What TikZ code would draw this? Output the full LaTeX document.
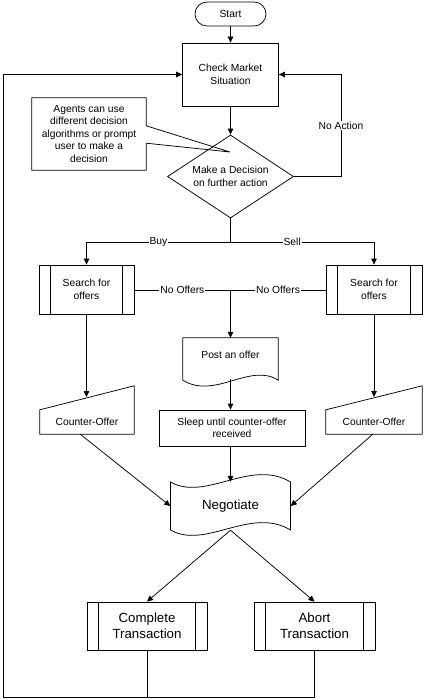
\documentclass[tikz,border=0pt]{standalone}
\usepackage{fontspec}
\setmainfont{Liberation Sans}
\usetikzlibrary{arrows.meta,shapes.geometric,calc}
\begin{document}
\begin{tikzpicture}[x=1pt,y=-1pt,
  every node/.style={font=\fontsize{10.3}{12.5}\selectfont, inner sep=0pt, align=center},
  ln/.style={line width=0.75pt},
  arr/.style={ln, -{Triangle[length=6pt,width=5.5pt]}},
  lbl/.style={fill=white, inner xsep=1pt, inner ysep=1pt},
  big/.style={font=\fontsize{13.3}{16}\selectfont},
  predef/.style={draw, ln, path picture={
      \draw[line width=0.75pt]
        ([xshift=11pt]path picture bounding box.north west) -- ([xshift=11pt]path picture bounding box.south west)
        ([xshift=-12pt]path picture bounding box.north east) -- ([xshift=-12pt]path picture bounding box.south east);}}
]
\useasboundingbox (0,0) rectangle (424,700);
\fill[white] (0,0) rectangle (424,700);

% nodes
\node[draw,ln,rounded corners=12pt,minimum width=71pt,minimum height=24pt] (start) at (230.5,14) {Start};
\node[draw,ln,minimum width=96pt,minimum height=63pt] (check) at (230.5,74.5) {Check Market\\Situation};
\node[draw,ln,diamond,aspect=1.52,minimum width=126pt,minimum height=83pt] (dec) at (230.5,176.5) {Make a Decision\\on further action};
\node[minimum width=114pt,minimum height=72pt] (note) at (89,134) {Agents can use\\different decision\\algorithms or prompt\\user to make a\\decision};
\coordinate (tip) at (230,152);
\draw[ln] ($(note.north east)+(0,28)$) -- (note.north east) -- (note.north west) -- (note.south west) -- (note.south east) -- ($(note.south east)+(0,-27)$) -- (tip) -- cycle;

\node[predef,minimum width=95pt,minimum height=49pt] (sL) at (86.5,289.5) {Search for\\offers};
\node[predef,minimum width=96pt,minimum height=49pt] (sR) at (374,289.5) {Search for\\offers};

\node[minimum width=95pt,minimum height=34pt] (post) at (230.5,355) {Post an offer};
\draw[ln] ($(post.south west)+(0,8)$) -- (post.north west) -- (post.north east) -- ($(post.south east)+(0,8)$)
  .. controls (250,362) and (215,400) .. ($(post.south west)+(0,8)$);
\coordinate (postb) at (230.5,379);

\node[draw,ln,minimum width=146pt,minimum height=36pt] (sleep) at (232,428) {Sleep until counter-offer\\received};

\node[minimum width=94pt,minimum height=24pt] (coL) at (87,422) {Counter-Offer};
\draw[ln] (coL.south west) -- (coL.north west) -- ($(coL.north east)+(0,-24)$) -- (coL.south east) -- cycle;
\node[minimum width=96pt,minimum height=24pt] (coR) at (374,422) {Counter-Offer};
\draw[ln] (coR.south west) -- (coR.north west) -- ($(coR.north east)+(0,-24)$) -- (coR.south east) -- cycle;
\coordinate (coLt) at (86.5,397);
\coordinate (coRt) at (374,397);
\coordinate (coLb) at (80,434);
\coordinate (coRb) at (373,434);

\node[big,minimum width=120pt,minimum height=48pt] (neg) at (230.5,506) {Negotiate};
\draw[ln] (170.5,482) .. controls (205.5,502) and (250.5,458) .. (290.5,482) -- (290.5,530)
  .. controls (250.5,506) and (205.5,550) .. (170.5,530) -- cycle;

\node[predef,big,minimum width=120pt,minimum height=48pt] (comp) at (147,626) {Complete\\Transaction};
\node[predef,big,minimum width=121pt,minimum height=48pt] (abort) at (314.5,626) {Abort\\Transaction};

% connectors
\draw[arr] (start) -- (check);
\draw[arr] (check) -- (dec.north);
\coordinate (na) at (341,176.5);
\draw[arr] (dec.east) -- (na) |- node[lbl,pos=0.25] {No Action} (check.east);

\coordinate (bs) at (230.5,242);
\draw[ln] (dec.south) -- (bs);
\draw[arr] (bs) -| node[lbl,pos=0.25] {Buy} (sL.north);
\draw[arr] (bs) -| node[lbl,pos=0.215] {Sell} (sR.north);

\coordinate (no) at (230.5,290);
\draw[ln] (sL.east |- no) -- node[lbl] {No Offers} (no);
\draw[ln] (sR.west |- no) -- node[lbl] {No Offers} (no);
\draw[arr] (no) -- (post.north);
\draw[arr] (postb) -- (postb |- sleep.north);

\draw[arr] (sL.south) -- (coLt);
\draw[arr] (sR.south) -- (coRt);
\draw[arr] (coLb) -- (neg.west);
\draw[arr] (coRb) -- (neg.east);
\draw[arr] (sleep.south -| neg.north) -- (neg.north);

\draw[arr] (neg.south) -- (comp.north);
\draw[arr] (neg.south) -- (abort.north);

\coordinate (bl) at (3,697);
\draw[arr] (abort.south) |- (bl) |- (check.west);
\draw[ln] (comp.south) -- (comp.south |- bl);
\end{tikzpicture}
\end{document}
